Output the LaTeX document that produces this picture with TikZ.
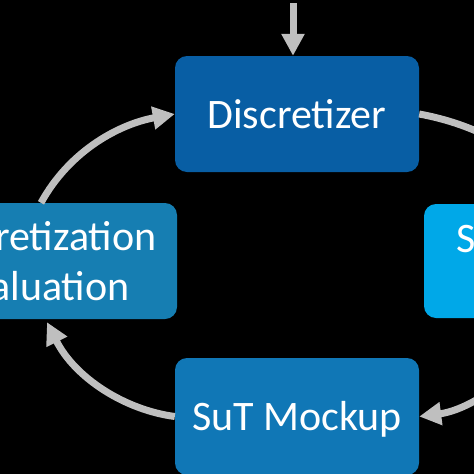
\documentclass[tikz,border=0pt]{standalone}
\usepackage{fontspec}
\setmainfont{Carlito}
\usetikzlibrary{arrows.meta}
\definecolor{bg}{RGB}{0,0,0}
\definecolor{discblue}{RGB}{8,94,164}
\definecolor{evalblue}{RGB}{22,126,178}
\definecolor{mockblue}{RGB}{16,119,182}
\definecolor{simblue}{RGB}{0,168,232}
\definecolor{arrowgray}{RGB}{191,191,191}
\tikzset{
  box/.style={rectangle, rounded corners=12pt, inner sep=0pt, text=white,
    font=\fontsize{42pt}{50pt}\selectfont},
  flow/.style={draw=arrowgray, line width=7pt,
    -{Triangle[width=22pt,length=22pt]}},
  lbl/.style={text=white, inner sep=0pt, font=\fontsize{42pt}{50pt}\selectfont}
}
\begin{document}
\begin{tikzpicture}[x=1pt,y=-1pt]
\useasboundingbox (0,0) rectangle (474,474);
\clip (0,0) rectangle (474,474);
\fill[bg] (-10,-10) rectangle (484,484);
% boxes
\node[box, fill=discblue, minimum width=244pt, minimum height=116pt,
  text height=28pt, text depth=0pt] (disc) at (297,114) {Discretizer};
\node[box, fill=evalblue, minimum width=272pt, minimum height=116pt,
  align=center] (eval) at (41,261) {Discretization\\Evaluation};
\node[box, fill=simblue, minimum width=266pt, minimum height=114pt] (sim) at (557,261) {};
\node[lbl, anchor=base west] (simtext) at (456,252) {S};
\node[box, fill=mockblue, minimum width=244pt, minimum height=117pt,
  text height=28pt, text depth=0pt] (mock) at (297,416.5) {SuT Mockup};
% connectors
\coordinate (in) at (293,3);
\draw[flow] (in) -- (in |- disc.north);
\draw[flow] (disc.east) .. controls (474,124) and (524,150) .. (sim.north);
\draw[flow] (sim.south) .. controls (521,378) and (469,410) .. (mock.east);
\draw[flow] (mock.west) .. controls (125,410) and (75,378) .. ([xshift=6pt,yshift=-3pt]eval.south);
\draw[flow] (eval.north) .. controls (70,150) and (120,124) .. (disc.west);
\end{tikzpicture}
\end{document}
